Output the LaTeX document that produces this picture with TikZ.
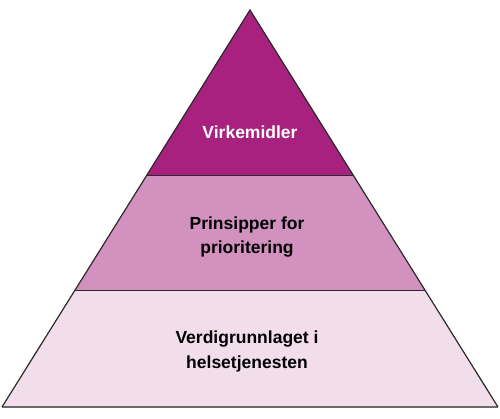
\documentclass[tikz,border=0pt]{standalone}
\usepackage{fontspec}
\setmainfont{Liberation Sans}
\definecolor{topc}{HTML}{A8217F}
\definecolor{midc}{HTML}{D291BE}
\definecolor{botc}{HTML}{F2DDEA}
\definecolor{edgec}{HTML}{2A2A2A}
\definecolor{basec}{HTML}{6A6A6A}
\begin{document}
\begin{tikzpicture}[x=1pt,y=-1pt,
  lab/.style={font=\fontsize{17.5}{24.5}\selectfont\bfseries, align=center, inner sep=0pt},
  sep/.style={draw=edgec, line width=1pt}]
\useasboundingbox (0,0) rectangle (500,419);
\coordinate (A) at (250,10);
\coordinate (BL) at (2,407);
\coordinate (BR) at (498,407);
\coordinate (L1) at (146,176);
\coordinate (R1) at (354,176);
\coordinate (L2) at (74.5,291);
\coordinate (R2) at (425.5,291);
\fill[topc] (A) -- (L1) -- (R1) -- cycle;
\fill[midc] (L1) -- (L2) -- (R2) -- (R1) -- cycle;
\fill[botc] (L2) -- (BL) -- (BR) -- (R2) -- cycle;
\draw[sep] (L1) -- (R1);
\draw[sep] (L2) -- (R2);
\draw[draw=basec, line width=2pt] (BL) -- (BR);
\draw[draw=edgec, line width=1.2pt, line join=miter] (BL) -- (A) -- (BR);
\node[lab, text=white, anchor=base] (t1) at (250,138.3) {Virkemidler};
\node[lab, text=black] (t2) at (247,237.2) {Prinsipper for\\prioritering};
\node[lab, text=black] (t3) at (247,351.7) {Verdigrunnlaget i\\helsetjenesten};
\end{tikzpicture}
\end{document}
